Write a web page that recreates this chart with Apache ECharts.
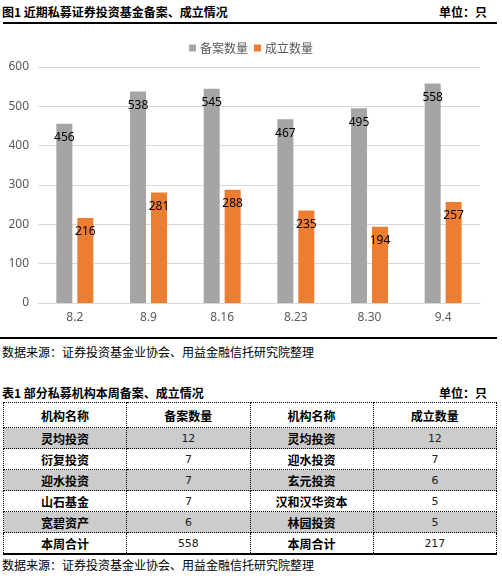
<!DOCTYPE html>
<html>
<head>
<meta charset="utf-8">
<script src="https://cdn.jsdelivr.net/npm/echarts@6/dist/echarts.min.js"></script>
<style>
  body { margin: 0; width: 502px; height: 578px; background: #fff; position: relative; font-family: "Noto Sans CJK SC", sans-serif; overflow: hidden; }
  .ttl { position: absolute; left: 2px; font-size: 12px; font-weight: bold; color: #000; line-height: 14px; }
  .unit { position: absolute; right: 15px; font-size: 12px; font-weight: bold; color: #000; line-height: 14px; }
  .src { position: absolute; left: 2px; font-size: 12px; color: #000; line-height: 14px; }
  .rule { position: absolute; left: 3px; width: 494px; height: 2px; background: #000; }
  #chart { position: absolute; left: 0; top: 24px; width: 502px; height: 312px; }
  table { position: absolute; left: 3px; top: 402px; width: 494px; border-collapse: collapse; table-layout: fixed; }
  td { border: 1px dotted #000; text-align: center; padding: 0; height: 20px; font-size: 11px; color: #222; font-family: "DejaVu Sans", sans-serif; }
  tr.head td { height: 24px; font-weight: bold; font-size: 12px; color: #000; font-family: "Noto Sans CJK SC", sans-serif; }
  td.name { font-weight: bold; font-size: 12px; color: #000; font-family: "Noto Sans CJK SC", sans-serif; }
  tr.gray td { background: #cccccc; }
  tr.last td { border-bottom: 2px solid #000; }
</style>
</head>
<body>
<div class="ttl" style="top:5px">图1 近期私募证券投资基金备案、成立情况</div>
<div class="unit" style="top:5px">单位：只</div>
<div class="rule" style="top:22px"></div>
<div id="chart"></div>
<div class="rule" style="top:337px;left:0;width:497px"></div>
<div class="src" style="top:345px">数据来源：证券投资基金业协会、用益金融信托研究院整理</div>
<div class="ttl" style="top:386px">表1 部分私募机构本周备案、成立情况</div>
<div class="unit" style="top:386px">单位：只</div>
<table id="tbl"></table>
<div class="src" style="top:558px">数据来源：证券投资基金业协会、用益金融信托研究院整理</div>

<script>
  // 图1 数据
  var weeks = ['8.2', '8.9', '8.16', '8.23', '8.30', '9.4']
  var filedCount = [456, 538, 545, 467, 495, 558]
  var setupCount = [216, 281, 288, 235, 194, 257]

  // 表1 数据
  var tableHead = ['机构名称', '备案数量', '机构名称', '成立数量']
  var filedOrgs = ['灵均投资', '衍复投资', '迎水投资', '山石基金', '宽碧资产', '本周合计']
  var filedNums = [12, 7, 7, 7, 6, 558]
  var setupOrgs = ['灵均投资', '迎水投资', '玄元投资', '汉和汉华资本', '林园投资', '本周合计']
  var setupNums = [12, 7, 6, 5, 5, 217]

  var html = '<tr class="head">' + tableHead.map(function (h) { return '<td>' + h + '</td>' }).join('') + '</tr>'
  filedOrgs.forEach(function (org, i) {
    var cls = (i % 2 == 0 ? 'gray' : '') + (i == filedOrgs.length - 1 ? ' last' : '')
    html += '<tr class="' + cls + '"><td class="name">' + org + '</td><td>' + filedNums[i] +
      '</td><td class="name">' + setupOrgs[i] + '</td><td>' + setupNums[i] + '</td></tr>'
  })
  document.getElementById('tbl').innerHTML = html

  var chart = echarts.init(document.getElementById('chart'))
  var labelStyle = {
    show: true,
    position: 'insideTop',
    distance: 8,
    color: '#000',
    fontSize: 12,
    fontFamily: 'Noto Sans'
  }
  chart.setOption({
    animation: false,
    textStyle: { fontFamily: 'Noto Sans CJK SC' },
    legend: {
      top: 13,
      left: 'center',
      icon: 'rect',
      itemWidth: 7,
      itemHeight: 7,
      itemGap: 6,
      textStyle: { color: '#595959', fontSize: 12, padding: [0, 0, 0, -1] },
      data: ['备案数量', '成立数量']
    },
    grid: { left: 38, right: 22, top: 43, bottom: 33 },
    xAxis: {
      type: 'category',
      data: weeks,
      axisTick: { show: false },
      axisLine: { lineStyle: { color: '#d9d9d9' } },
      axisLabel: { color: '#595959', fontSize: 12, margin: 9, fontFamily: 'Noto Sans' }
    },
    yAxis: {
      type: 'value',
      min: 0,
      max: 600,
      interval: 100,
      axisLabel: { color: '#595959', fontSize: 12, margin: 9, fontFamily: 'Noto Sans' },
      splitLine: { lineStyle: { color: '#d9d9d9' } }
    },
    series: [
      { name: '备案数量', type: 'bar', data: filedCount, barWidth: 16, barGap: '31%',
        itemStyle: { color: '#a5a5a5' }, label: labelStyle },
      { name: '成立数量', type: 'bar', data: setupCount, barWidth: 16,
        itemStyle: { color: '#ed7d31' }, label: labelStyle }
    ]
  })
</script>
</body>
</html>
